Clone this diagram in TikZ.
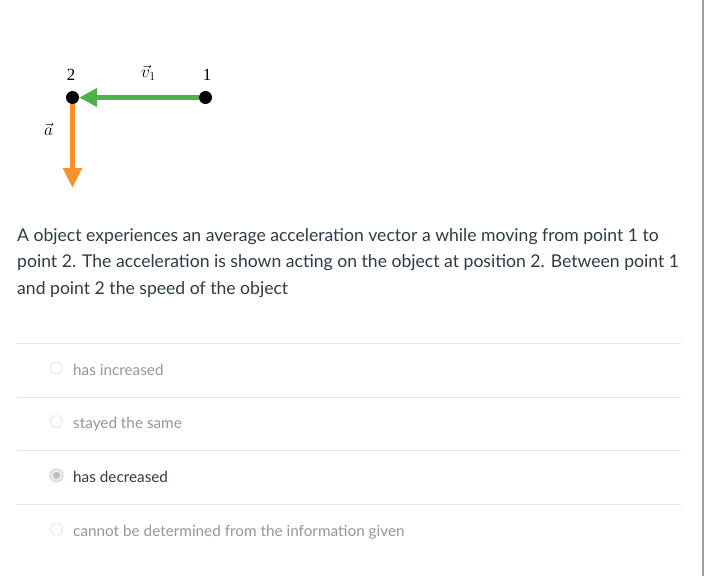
\documentclass[tikz,border=0pt]{standalone}
\usepackage{fontspec}
\setmainfont{Lato}
\newfontfamily\timesfont{Liberation Serif}
\usetikzlibrary{arrows.meta}
\definecolor{vgreen}{RGB}{78,178,74}
\definecolor{aorange}{RGB}{246,146,46}
\definecolor{qtext}{RGB}{45,59,69}
\definecolor{optgray}{RGB}{150,150,150}
\definecolor{rulegray}{RGB}{228,228,228}

\begin{document}
\begin{tikzpicture}[x=1pt,y=-1pt,
  dot/.style={circle,fill=black,inner sep=0,minimum size=13},
  ptlabel/.style={font=\timesfont\fontsize{17}{17}\selectfont,inner sep=0},
  qline/.style={anchor=base west,inner sep=0,text=qtext,font=\fontsize{17.6}{21}\selectfont},
  optline/.style={anchor=base west,inner sep=0,font=\fontsize{15.3}{17}\selectfont},
  radio/.style={circle,draw=rulegray,fill=white,line width=0.8,inner sep=0,minimum size=12}]
\useasboundingbox (0,0) rectangle (714,576);
\draw[gray!75,line width=1.2] (703,0) -- (703,576);

% the motion sketch
\node[dot] (P2) at (72.5,97.5) {};
\node[dot] (P1) at (205.5,97.5) {};
\coordinate (Atip) at (72.5,188);
\draw[vgreen,line width=5,-{Triangle[length=18,width=18]}] (P1) -- (P2);
\draw[aorange,line width=5,-{Triangle[length=20,width=18]}] (P2) -- (Atip);
\node[ptlabel] (L2) at (71,74.5) {2};
\node[ptlabel] (L1) at (207,74.5) {1};
\node[ptlabel] (Lv) at (148.5,73) {$\vec{v}_{1}$};
\node[ptlabel] (La) at (48.5,129) {$\vec{a}$};

% the question
\node[qline] (Q1) at (17,241) {A object experiences an average acceleration vector a while moving from point 1 to};
\node[qline] (Q2) at (17,267.5) {point 2. The acceleration is shown acting on the object at position 2. Between point 1};
\node[qline] (Q3) at (17,294) {and point 2 the speed of the object};

% the answers
\foreach \i/\txt/\col in {0/has increased/optgray,1/stayed the same/optgray,2/has decreased/qtext,3/cannot be determined from the information given/optgray} {
  \draw[rulegray] (17,{343+53.7*\i}) -- (681,{343+53.7*\i});
  \node[radio] (R\i) at (56.5,{368+53.7*\i}) {};
  \node[optline,text=\col] (A\i) at (73,{375+53.7*\i}) {\txt};
}
\node[circle,draw=gray!30,fill=gray!15,line width=1.2,inner sep=0,minimum size=13] (Sel) at (R2) {};
\node[circle,fill=gray!50,inner sep=0,minimum size=7] (SelDot) at (Sel) {};
\end{tikzpicture}
\end{document}
